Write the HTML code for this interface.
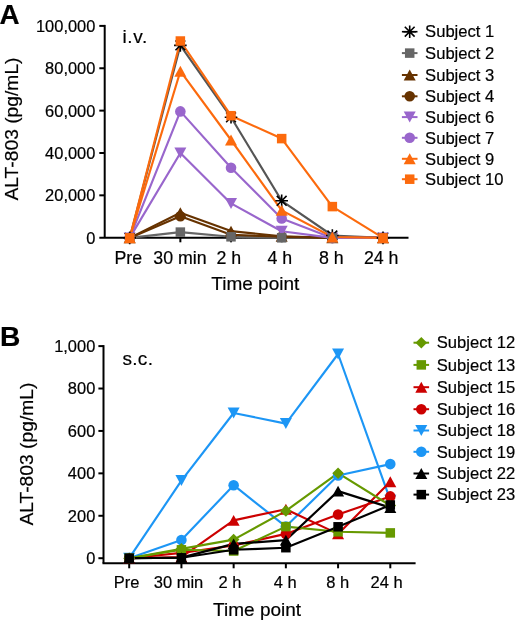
<!DOCTYPE html>
<html lang="en"><head><meta charset="utf-8"><title>ALT-803 pharmacokinetics</title>
<style>html,body{margin:0;padding:0;background:#fff}svg{display:block}text{font-family:"Liberation Sans", Arial, Helvetica, sans-serif;fill:#000;stroke:#000;stroke-width:0.2px}</style></head><body>
<svg width="520" height="623" viewBox="0 0 520 623">
<defs><filter id="soft" x="0" y="0" width="520" height="623" filterUnits="userSpaceOnUse"><feGaussianBlur stdDeviation="0.45"/></filter></defs>
<rect width="520" height="623" fill="#fff"/>
<g filter="url(#soft)">
<g id="panelA">
<text x="-0.4" y="24" font-size="27.8" font-weight="bold">A</text>
<path d="M104.7 24.9V237.7" stroke="#000" stroke-width="2" fill="none"/>
<path d="M99.3 237.7H408.5" stroke="#000" stroke-width="2" fill="none"/>
<path d="M99.3 195.34H104.7" stroke="#000" stroke-width="2"/>
<path d="M99.3 152.98H104.7" stroke="#000" stroke-width="2"/>
<path d="M99.3 110.62H104.7" stroke="#000" stroke-width="2"/>
<path d="M99.3 68.26H104.7" stroke="#000" stroke-width="2"/>
<path d="M99.3 25.9H104.7" stroke="#000" stroke-width="2"/>
<text x="95.4" y="243.6" font-size="16.45" text-anchor="end">0</text>
<text x="95.4" y="201.24" font-size="16.45" text-anchor="end">20,000</text>
<text x="95.4" y="158.88" font-size="16.45" text-anchor="end">40,000</text>
<text x="95.4" y="116.52" font-size="16.45" text-anchor="end">60,000</text>
<text x="95.4" y="74.16" font-size="16.45" text-anchor="end">80,000</text>
<text x="95.4" y="31.8" font-size="16.45" text-anchor="end">100,000</text>
<path d="M129.7 237.7V242.3" stroke="#000" stroke-width="2"/>
<path d="M180.36 237.7V242.3" stroke="#000" stroke-width="2"/>
<path d="M231.02 237.7V242.3" stroke="#000" stroke-width="2"/>
<path d="M281.68 237.7V242.3" stroke="#000" stroke-width="2"/>
<path d="M332.34 237.7V242.3" stroke="#000" stroke-width="2"/>
<path d="M383 237.7V242.3" stroke="#000" stroke-width="2"/>
<text x="128.3" y="264.1" font-size="17.8" text-anchor="middle">Pre</text>
<text x="180" y="264.1" font-size="17.8" text-anchor="middle">30 min</text>
<text x="228.9" y="264.1" font-size="17.8" text-anchor="middle">2 h</text>
<text x="279.9" y="264.1" font-size="17.8" text-anchor="middle">4 h</text>
<text x="331.4" y="264.1" font-size="17.8" text-anchor="middle">8 h</text>
<text x="381.2" y="264.1" font-size="17.8" text-anchor="middle">24 h</text>
<text x="255.3" y="289.7" font-size="19" text-anchor="middle">Time point</text>
<text transform="translate(18.2 129.0) rotate(-90)" font-size="19.25" text-anchor="middle">ALT-803 (pg/mL)</text>
<text x="122.5" y="43.4" font-size="19" letter-spacing="0.6">i.v.</text>
<polyline points="129.7,237.9 180.36,45.4 231.02,117.3 281.68,200.8 332.34,235.5 383,237.9" fill="none" stroke="#555555" stroke-width="2.15" stroke-linejoin="round"/>
<polyline points="129.7,237.9 180.36,232.1 231.02,236.8 281.68,237.8 332.34,237.9 383,237.9" fill="none" stroke="#666666" stroke-width="2.15" stroke-linejoin="round"/>
<polyline points="129.7,237.9 180.36,212.7 231.02,231.1 281.68,236.3 332.34,237.9 383,237.9" fill="none" stroke="#663300" stroke-width="2.15" stroke-linejoin="round"/>
<polyline points="129.7,237.9 180.36,216.3 231.02,234.7 281.68,236.8 332.34,237.9 383,237.9" fill="none" stroke="#663300" stroke-width="2.15" stroke-linejoin="round"/>
<polyline points="129.7,237.9 180.36,153 231.02,203.4 281.68,231.2 332.34,237.9 383,237.9" fill="none" stroke="#9966CC" stroke-width="2.15" stroke-linejoin="round"/>
<polyline points="129.7,237.9 180.36,111.4 231.02,167.8 281.68,218.5 332.34,237.9 383,237.9" fill="none" stroke="#9966CC" stroke-width="2.15" stroke-linejoin="round"/>
<polyline points="129.7,237.9 180.36,71.2 231.02,140 281.68,210.4 332.34,237 383,237.9" fill="none" stroke="#FC6A0C" stroke-width="2.15" stroke-linejoin="round"/>
<polyline points="129.7,237.9 180.36,41 231.02,115.7 281.68,138.6 332.34,206.6 383,237.9" fill="none" stroke="#FC6A0C" stroke-width="2.15" stroke-linejoin="round"/>
<path d="M129.7 232.45L135.7 243.35L123.7 243.35Z" fill="#663300"/>
<path d="M180.36 207.25L186.36 218.15L174.36 218.15Z" fill="#663300"/>
<path d="M231.02 225.65L237.02 236.55L225.02 236.55Z" fill="#663300"/>
<path d="M281.68 230.85L287.68 241.75L275.68 241.75Z" fill="#663300"/>
<path d="M332.34 232.45L338.34 243.35L326.34 243.35Z" fill="#663300"/>
<path d="M383 232.45L389 243.35L377 243.35Z" fill="#663300"/>
<circle cx="129.7" cy="237.9" r="5.3" fill="#663300"/>
<circle cx="180.36" cy="216.3" r="5.3" fill="#663300"/>
<circle cx="231.02" cy="234.7" r="5.3" fill="#663300"/>
<circle cx="281.68" cy="236.8" r="5.3" fill="#663300"/>
<circle cx="332.34" cy="237.9" r="5.3" fill="#663300"/>
<circle cx="383" cy="237.9" r="5.3" fill="#663300"/>
<path d="M129.7 243.4L135.7 232.4L123.7 232.4Z" fill="#9966CC"/>
<path d="M180.36 158.5L186.36 147.5L174.36 147.5Z" fill="#9966CC"/>
<path d="M231.02 208.9L237.02 197.9L225.02 197.9Z" fill="#9966CC"/>
<path d="M281.68 236.7L287.68 225.7L275.68 225.7Z" fill="#9966CC"/>
<path d="M332.34 243.4L338.34 232.4L326.34 232.4Z" fill="#9966CC"/>
<path d="M383 243.4L389 232.4L377 232.4Z" fill="#9966CC"/>
<circle cx="129.7" cy="237.9" r="5.3" fill="#9966CC"/>
<circle cx="180.36" cy="111.4" r="5.3" fill="#9966CC"/>
<circle cx="231.02" cy="167.8" r="5.3" fill="#9966CC"/>
<circle cx="281.68" cy="218.5" r="5.3" fill="#9966CC"/>
<circle cx="332.34" cy="237.9" r="5.3" fill="#9966CC"/>
<circle cx="383" cy="237.9" r="5.3" fill="#9966CC"/>
<path d="M123.4 237.9H136M129.7 231.6V244.2M124.8 233L134.6 242.8M124.8 242.8L134.6 233" stroke="#000000" stroke-width="1.6" fill="none"/>
<path d="M174.06 45.4H186.66M180.36 39.1V51.7M175.46 40.5L185.26 50.3M175.46 50.3L185.26 40.5" stroke="#000000" stroke-width="1.6" fill="none"/>
<path d="M224.72 117.3H237.32M231.02 111V123.6M226.12 112.4L235.92 122.2M226.12 122.2L235.92 112.4" stroke="#000000" stroke-width="1.6" fill="none"/>
<path d="M275.38 200.8H287.98M281.68 194.5V207.1M276.78 195.9L286.58 205.7M276.78 205.7L286.58 195.9" stroke="#000000" stroke-width="1.6" fill="none"/>
<path d="M326.04 235.5H338.64M332.34 229.2V241.8M327.44 230.6L337.24 240.4M327.44 240.4L337.24 230.6" stroke="#000000" stroke-width="1.6" fill="none"/>
<path d="M376.7 237.9H389.3M383 231.6V244.2M378.1 233L387.9 242.8M378.1 242.8L387.9 233" stroke="#000000" stroke-width="1.6" fill="none"/>
<rect x="124.95" y="233.15" width="9.5" height="9.5" fill="#666666"/>
<rect x="175.61" y="227.35" width="9.5" height="9.5" fill="#666666"/>
<rect x="226.27" y="232.05" width="9.5" height="9.5" fill="#666666"/>
<rect x="276.93" y="233.05" width="9.5" height="9.5" fill="#666666"/>
<rect x="327.59" y="233.15" width="9.5" height="9.5" fill="#666666"/>
<rect x="378.25" y="233.15" width="9.5" height="9.5" fill="#666666"/>
<path d="M129.7 232.45L135.7 243.35L123.7 243.35Z" fill="#FC6A0C"/>
<path d="M180.36 65.75L186.36 76.65L174.36 76.65Z" fill="#FC6A0C"/>
<path d="M231.02 134.55L237.02 145.45L225.02 145.45Z" fill="#FC6A0C"/>
<path d="M281.68 204.95L287.68 215.85L275.68 215.85Z" fill="#FC6A0C"/>
<path d="M332.34 231.55L338.34 242.45L326.34 242.45Z" fill="#FC6A0C"/>
<path d="M383 232.45L389 243.35L377 243.35Z" fill="#FC6A0C"/>
<rect x="124.95" y="233.15" width="9.5" height="9.5" fill="#FC6A0C"/>
<rect x="175.61" y="36.25" width="9.5" height="9.5" fill="#FC6A0C"/>
<rect x="226.27" y="110.95" width="9.5" height="9.5" fill="#FC6A0C"/>
<rect x="276.93" y="133.85" width="9.5" height="9.5" fill="#FC6A0C"/>
<rect x="327.59" y="201.85" width="9.5" height="9.5" fill="#FC6A0C"/>
<rect x="378.25" y="233.15" width="9.5" height="9.5" fill="#FC6A0C"/>
<path d="M401.9 31.7H417.5" stroke="#000" stroke-width="1.6"/>
<path d="M403.4 31.7H416M409.7 25.4V38M404.8 26.8L414.6 36.6M404.8 36.6L414.6 26.8" stroke="#000" stroke-width="1.6" fill="none"/>
<text x="425.1" y="37.4" font-size="16.6">Subject 1</text>
<path d="M401.9 53.1H417.5" stroke="#666666" stroke-width="2"/>
<rect x="404.95" y="48.35" width="9.5" height="9.5" fill="#666666"/>
<text x="425.1" y="58.8" font-size="16.6">Subject 2</text>
<path d="M401.9 75H417.5" stroke="#663300" stroke-width="2"/>
<path d="M409.7 69.55L415.7 80.45L403.7 80.45Z" fill="#663300"/>
<text x="425.1" y="80.7" font-size="16.6">Subject 3</text>
<path d="M401.9 96.3H417.5" stroke="#663300" stroke-width="2"/>
<circle cx="409.7" cy="96.3" r="5.3" fill="#663300"/>
<text x="425.1" y="102" font-size="16.6">Subject 4</text>
<path d="M401.9 117.1H417.5" stroke="#9966CC" stroke-width="2"/>
<path d="M409.7 122.6L415.7 111.6L403.7 111.6Z" fill="#9966CC"/>
<text x="425.1" y="122.8" font-size="16.6">Subject 6</text>
<path d="M401.9 137.8H417.5" stroke="#9966CC" stroke-width="2"/>
<circle cx="409.7" cy="137.8" r="5.3" fill="#9966CC"/>
<text x="425.1" y="143.5" font-size="16.6">Subject 7</text>
<path d="M401.9 158.8H417.5" stroke="#FC6A0C" stroke-width="2"/>
<path d="M409.7 153.35L415.7 164.25L403.7 164.25Z" fill="#FC6A0C"/>
<text x="425.1" y="164.5" font-size="16.6">Subject 9</text>
<path d="M401.9 179.2H417.5" stroke="#FC6A0C" stroke-width="2"/>
<rect x="404.95" y="174.45" width="9.5" height="9.5" fill="#FC6A0C"/>
<text x="425.1" y="184.9" font-size="16.6">Subject 10</text>
</g>
<g id="panelB">
<text x="0" y="345.8" font-size="28.2" font-weight="bold">B</text>
<path d="M103.5 345.1V563.3" stroke="#000" stroke-width="2" fill="none"/>
<path d="M102.5 563.3H415.6" stroke="#000" stroke-width="2" fill="none"/>
<path d="M98.4 558.2H103.5" stroke="#000" stroke-width="2"/>
<text x="95.3" y="564" font-size="16.45" text-anchor="end">0</text>
<path d="M98.4 515.78H103.5" stroke="#000" stroke-width="2"/>
<text x="95.3" y="521.58" font-size="16.45" text-anchor="end">200</text>
<path d="M98.4 473.36H103.5" stroke="#000" stroke-width="2"/>
<text x="95.3" y="479.16" font-size="16.45" text-anchor="end">400</text>
<path d="M98.4 430.94H103.5" stroke="#000" stroke-width="2"/>
<text x="95.3" y="436.74" font-size="16.45" text-anchor="end">600</text>
<path d="M98.4 388.52H103.5" stroke="#000" stroke-width="2"/>
<text x="95.3" y="394.32" font-size="16.45" text-anchor="end">800</text>
<path d="M98.4 346.1H103.5" stroke="#000" stroke-width="2"/>
<text x="95.3" y="351.9" font-size="16.45" text-anchor="end">1,000</text>
<path d="M129.2 563.3V568.3" stroke="#000" stroke-width="2"/>
<path d="M181.42 563.3V568.3" stroke="#000" stroke-width="2"/>
<path d="M233.64 563.3V568.3" stroke="#000" stroke-width="2"/>
<path d="M285.86 563.3V568.3" stroke="#000" stroke-width="2"/>
<path d="M338.08 563.3V568.3" stroke="#000" stroke-width="2"/>
<path d="M390.3 563.3V568.3" stroke="#000" stroke-width="2"/>
<text x="126.7" y="587.6" font-size="16.5" text-anchor="middle">Pre</text>
<text x="178.5" y="587.6" font-size="16.5" text-anchor="middle">30 min</text>
<text x="230" y="587.6" font-size="16.5" text-anchor="middle">2 h</text>
<text x="285.3" y="587.6" font-size="16.5" text-anchor="middle">4 h</text>
<text x="337.8" y="587.6" font-size="16.5" text-anchor="middle">8 h</text>
<text x="386.6" y="587.6" font-size="16.5" text-anchor="middle">24 h</text>
<text x="257.1" y="615.8" font-size="19" text-anchor="middle">Time point</text>
<text transform="translate(33.4 454.1) rotate(-90)" font-size="19.25" text-anchor="middle">ALT-803 (pg/mL)</text>
<text x="122.4" y="364.6" font-size="19" letter-spacing="0.35">s.c.</text>
<polyline points="129.2,558.2 181.42,480.6 233.64,413 285.86,423.6 338.08,354 390.3,500.2" fill="none" stroke="#1E96F5" stroke-width="2.15" stroke-linejoin="round"/>
<polyline points="129.2,558.2 181.42,540.1 233.64,485.2 285.86,526.6 338.08,475.5 390.3,464.1" fill="none" stroke="#1E96F5" stroke-width="2.15" stroke-linejoin="round"/>
<polyline points="129.2,558.2 181.42,557.1 233.64,520.4 285.86,509.2 338.08,533.9 390.3,481.8" fill="none" stroke="#CC0000" stroke-width="2.15" stroke-linejoin="round"/>
<polyline points="129.2,558.2 181.42,552.9 233.64,545.5 285.86,533.9 338.08,514.5 390.3,496.4" fill="none" stroke="#CC0000" stroke-width="2.15" stroke-linejoin="round"/>
<polyline points="129.2,558.2 181.42,548.9 233.64,539.6 285.86,510.9 338.08,473.2 390.3,505.5" fill="none" stroke="#669900" stroke-width="2.15" stroke-linejoin="round"/>
<polyline points="129.2,558.2 181.42,549.8 233.64,551 285.86,526.6 338.08,531.8 390.3,532.9" fill="none" stroke="#669900" stroke-width="2.15" stroke-linejoin="round"/>
<polyline points="129.2,558.2 181.42,557.6 233.64,543.9 285.86,540.1 338.08,491.1 390.3,507.6" fill="none" stroke="#000000" stroke-width="2.15" stroke-linejoin="round"/>
<polyline points="129.2,558.2 181.42,557.8 233.64,549.8 285.86,547.7 338.08,526.8 390.3,505" fill="none" stroke="#000000" stroke-width="2.15" stroke-linejoin="round"/>
<path d="M129.2 563.7L135.2 552.7L123.2 552.7Z" fill="#1E96F5"/>
<path d="M181.42 486.1L187.42 475.1L175.42 475.1Z" fill="#1E96F5"/>
<path d="M233.64 418.5L239.64 407.5L227.64 407.5Z" fill="#1E96F5"/>
<path d="M285.86 429.1L291.86 418.1L279.86 418.1Z" fill="#1E96F5"/>
<path d="M338.08 359.5L344.08 348.5L332.08 348.5Z" fill="#1E96F5"/>
<path d="M390.3 505.7L396.3 494.7L384.3 494.7Z" fill="#1E96F5"/>
<circle cx="129.2" cy="558.2" r="5.3" fill="#1E96F5"/>
<circle cx="181.42" cy="540.1" r="5.3" fill="#1E96F5"/>
<circle cx="233.64" cy="485.2" r="5.3" fill="#1E96F5"/>
<circle cx="285.86" cy="526.6" r="5.3" fill="#1E96F5"/>
<circle cx="338.08" cy="475.5" r="5.3" fill="#1E96F5"/>
<circle cx="390.3" cy="464.1" r="5.3" fill="#1E96F5"/>
<path d="M129.2 552.75L135.2 563.65L123.2 563.65Z" fill="#CC0000"/>
<path d="M181.42 551.65L187.42 562.55L175.42 562.55Z" fill="#CC0000"/>
<path d="M233.64 514.95L239.64 525.85L227.64 525.85Z" fill="#CC0000"/>
<path d="M285.86 503.75L291.86 514.65L279.86 514.65Z" fill="#CC0000"/>
<path d="M338.08 528.45L344.08 539.35L332.08 539.35Z" fill="#CC0000"/>
<path d="M390.3 476.35L396.3 487.25L384.3 487.25Z" fill="#CC0000"/>
<circle cx="129.2" cy="558.2" r="5.3" fill="#CC0000"/>
<circle cx="181.42" cy="552.9" r="5.3" fill="#CC0000"/>
<circle cx="233.64" cy="545.5" r="5.3" fill="#CC0000"/>
<circle cx="285.86" cy="533.9" r="5.3" fill="#CC0000"/>
<circle cx="338.08" cy="514.5" r="5.3" fill="#CC0000"/>
<circle cx="390.3" cy="496.4" r="5.3" fill="#CC0000"/>
<path d="M129.2 552.4L135 558.2L129.2 564L123.4 558.2Z" fill="#669900"/>
<path d="M181.42 543.1L187.22 548.9L181.42 554.7L175.62 548.9Z" fill="#669900"/>
<path d="M233.64 533.8L239.44 539.6L233.64 545.4L227.84 539.6Z" fill="#669900"/>
<path d="M285.86 505.1L291.66 510.9L285.86 516.7L280.06 510.9Z" fill="#669900"/>
<path d="M338.08 467.4L343.88 473.2L338.08 479L332.28 473.2Z" fill="#669900"/>
<path d="M390.3 499.7L396.1 505.5L390.3 511.3L384.5 505.5Z" fill="#669900"/>
<rect x="124.45" y="553.45" width="9.5" height="9.5" fill="#669900"/>
<rect x="176.67" y="545.05" width="9.5" height="9.5" fill="#669900"/>
<rect x="228.89" y="546.25" width="9.5" height="9.5" fill="#669900"/>
<rect x="281.11" y="521.85" width="9.5" height="9.5" fill="#669900"/>
<rect x="333.33" y="527.05" width="9.5" height="9.5" fill="#669900"/>
<rect x="385.55" y="528.15" width="9.5" height="9.5" fill="#669900"/>
<path d="M129.2 552.75L135.2 563.65L123.2 563.65Z" fill="#000000"/>
<path d="M181.42 552.15L187.42 563.05L175.42 563.05Z" fill="#000000"/>
<path d="M233.64 538.45L239.64 549.35L227.64 549.35Z" fill="#000000"/>
<path d="M285.86 534.65L291.86 545.55L279.86 545.55Z" fill="#000000"/>
<path d="M338.08 485.65L344.08 496.55L332.08 496.55Z" fill="#000000"/>
<path d="M390.3 502.15L396.3 513.05L384.3 513.05Z" fill="#000000"/>
<rect x="124.45" y="553.45" width="9.5" height="9.5" fill="#000000"/>
<rect x="176.67" y="553.05" width="9.5" height="9.5" fill="#000000"/>
<rect x="228.89" y="545.05" width="9.5" height="9.5" fill="#000000"/>
<rect x="281.11" y="542.95" width="9.5" height="9.5" fill="#000000"/>
<rect x="333.33" y="522.05" width="9.5" height="9.5" fill="#000000"/>
<rect x="385.55" y="500.25" width="9.5" height="9.5" fill="#000000"/>
<path d="M413.5 342.7H429.1" stroke="#669900" stroke-width="2"/>
<path d="M421.3 336.9L427.1 342.7L421.3 348.5L415.5 342.7Z" fill="#669900"/>
<text x="436.8" y="348.4" font-size="16.6">Subject 12</text>
<path d="M413.5 364.9H429.1" stroke="#669900" stroke-width="2"/>
<rect x="416.55" y="360.15" width="9.5" height="9.5" fill="#669900"/>
<text x="436.8" y="370.6" font-size="16.6">Subject 13</text>
<path d="M413.5 387.2H429.1" stroke="#CC0000" stroke-width="2"/>
<path d="M421.3 381.75L427.3 392.65L415.3 392.65Z" fill="#CC0000"/>
<text x="436.8" y="392.9" font-size="16.6">Subject 15</text>
<path d="M413.5 409.2H429.1" stroke="#CC0000" stroke-width="2"/>
<circle cx="421.3" cy="409.2" r="5.3" fill="#CC0000"/>
<text x="436.8" y="414.9" font-size="16.6">Subject 16</text>
<path d="M413.5 430.5H429.1" stroke="#1E96F5" stroke-width="2"/>
<path d="M421.3 436L427.3 425L415.3 425Z" fill="#1E96F5"/>
<text x="436.8" y="436.2" font-size="16.6">Subject 18</text>
<path d="M413.5 451.8H429.1" stroke="#1E96F5" stroke-width="2"/>
<circle cx="421.3" cy="451.8" r="5.3" fill="#1E96F5"/>
<text x="436.8" y="457.5" font-size="16.6">Subject 19</text>
<path d="M413.5 473.5H429.1" stroke="#000000" stroke-width="2"/>
<path d="M421.3 468.05L427.3 478.95L415.3 478.95Z" fill="#000000"/>
<text x="436.8" y="479.2" font-size="16.6">Subject 22</text>
<path d="M413.5 494.6H429.1" stroke="#000000" stroke-width="2"/>
<rect x="416.55" y="489.85" width="9.5" height="9.5" fill="#000000"/>
<text x="436.8" y="500.3" font-size="16.6">Subject 23</text>
</g>
</g>
</svg></body></html>
